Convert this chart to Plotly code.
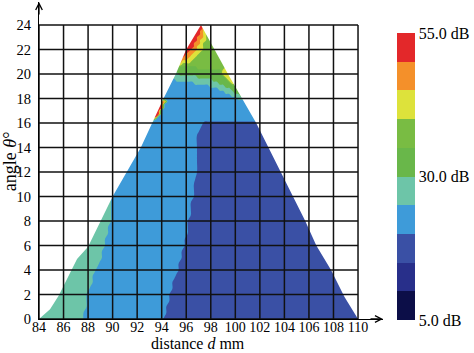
import numpy as np
import plotly.graph_objects as go

# ---- level classes (mid value of each 5 dB band) ----
DB, LB, TL, G1, G2, YL, OR, RD = 17.5, 22.5, 27.5, 32.5, 37.5, 42.5, 47.5, 52.5

# ---- zone map: for each angle row, (distance where zone starts, level) ----
zone_rows = [
    (0.0,  [(84, TL), (87.6, LB), (94.2, DB)]),
    (0.5,  [(84, TL), (87.7, LB), (94.3, DB)]),
    (1.0,  [(84, TL), (87.8, LB), (94.45, DB)]),
    (1.5,  [(84, TL), (87.9, LB), (94.55, DB)]),
    (2.0,  [(84, TL), (88.0, LB), (94.7, DB)]),
    (2.5,  [(84, TL), (88.15, LB), (94.85, DB)]),
    (3.0,  [(84, TL), (88.35, LB), (95.0, DB)]),
    (3.5,  [(84, TL), (88.5, LB), (95.15, DB)]),
    (4.0,  [(84, TL), (88.7, LB), (95.3, DB)]),
    (4.5,  [(84, TL), (88.85, LB), (95.45, DB)]),
    (5.0,  [(84, TL), (89.05, LB), (95.6, DB)]),
    (5.5,  [(84, TL), (89.2, LB), (95.75, DB)]),
    (6.0,  [(84, TL), (89.4, LB), (95.9, DB)]),
    (6.5,  [(84, TL), (89.5, LB), (96.0, DB)]),
    (7.0,  [(84, TL), (89.6, LB), (96.05, DB)]),
    (7.5,  [(84, TL), (89.7, LB), (96.1, DB)]),
    (8.0,  [(84, TL), (89.8, LB), (96.2, DB)]),
    (8.5,  [(84, TL), (89.85, LB), (96.3, DB)]),
    (9.0,  [(84, TL), (89.9, LB), (96.4, DB)]),
    (9.5,  [(84, TL), (89.95, LB), (96.5, DB)]),
    (10.0, [(84, TL), (90.0, LB), (96.6, DB)]),
    (11.0, [(84, LB), (96.7, DB)]),
    (12.0, [(84, LB), (96.8, DB)]),
    (13.0, [(84, LB), (96.8, DB)]),
    (14.0, [(84, LB), (96.8, DB)]),
    (15.0, [(84, LB), (96.9, DB)]),
    (15.5, [(84, LB), (97.05, DB)]),
    (16.0, [(84, LB), (97.4, DB)]),
    (16.25, [(84, G1), (93.5, LB)]),
    (16.5, [(84, RD), (93.6, LB)]),
    (16.75, [(84, RD), (93.8, LB)]),
    (17.0, [(84, RD), (93.9, LB)]),
    (17.25, [(84, RD), (94.1, LB)]),
    (17.5, [(84, RD), (94.2, LB)]),
    (17.75, [(84, OR), (94.3, LB)]),
    (18.0, [(84, LB), (100.2, TL)]),
    (18.25, [(84, LB), (99.65, TL), (100.5, G1)]),
    (18.5, [(84, LB), (99.1, TL), (100.0, G1)]),
    (18.75, [(84, LB), (98.55, TL), (99.55, G1)]),
    (19.0, [(84, LB), (97.9, TL), (99.05, G1)]),
    (19.25, [(84, LB), (96.6, TL), (98.6, G1), (99.6, YL)]),
    (19.5, [(84, LB), (95.25, TL), (98.1, G1), (99.3, YL)]),
    (19.75, [(84, TL), (96.8, G1), (99.1, YL)]),
    (20.0, [(84, TL), (95.5, G1), (98.95, YL)]),
    (20.25, [(84, G1), (98.9, YL)]),
    (20.5, [(84, G1), (97.0, G2), (99.05, YL)]),
    (20.75, [(84, YL), (95.6, G2)]),
    (21.0, [(84, OR), (95.75, YL), (96.3, G2)]),
    (21.25, [(84, RD), (95.7, OR), (96.1, YL), (96.65, G2)]),
    (21.5, [(84, RD), (96.0, OR), (96.4, YL), (96.95, G2)]),
    (21.75, [(84, RD), (96.25, OR), (96.65, YL), (97.2, G2)]),
    (22.0, [(84, RD), (96.45, OR), (96.8, YL), (97.3, G2)]),
    (22.25, [(84, RD), (96.6, OR), (96.95, YL), (97.4, G2)]),
    (22.5, [(84, RD), (96.75, OR), (97.05, YL), (97.45, G2)]),
    (22.75, [(84, RD), (96.9, OR), (97.2, YL), (97.55, G2)]),
    (23.0, [(84, RD), (97.0, OR), (97.3, YL), (97.6, G2)]),
    (23.25, [(84, RD), (97.1, OR), (97.35, YL), (97.6, G2)]),
    (23.5, [(84, RD), (97.2, OR), (97.4, YL), (97.7, G2)]),
    (23.75, [(84, RD), (97.3, OR), (97.45, YL), (97.8, G2)]),
    (24.0, [(84, RD), (97.5, OR), (97.7, YL), (98.0, G2)]),
]

# ---- measured outline of the measured (triangular) domain ----
left_edge_x = [84.0, 84.9, 85.6, 87.1, 88.0, 90.0, 92.3, 93.2, 94.15, 95.15, 96.0, 97.2]
left_edge_y = [0.0, 0.8, 1.9, 4.9, 5.9, 10.0, 14.0, 16.0, 18.0, 20.0, 22.0, 24.0]
right_edge_x = [97.2, 98.3, 99.4, 101.7, 103.7, 104.7, 105.7, 106.6, 107.8, 108.9, 110.0]
right_edge_y = [24.0, 22.0, 20.0, 16.0, 12.0, 10.0, 8.0, 6.0, 4.0, 1.8, 0.0]

x_ticks = list(range(84, 111, 2))
y_ticks = list(range(0, 25, 2))

level_colors = ['#0c0e48', '#282f8a', '#3a50a5', '#3e9bd9', '#6dc5a8',
                '#69b74a', '#79bc43', '#dde23b', '#f4902a', '#e3282a']
cbar_ticks = [5, 30, 55]
cbar_text = ['5.0 dB', '30.0 dB', '55.0 dB']

# ---- build the z grid from the zone map ----
xs = [round(v, 2) for v in np.arange(84.0, 110.001, 0.25)]
ys = [r[0] for r in zone_rows]


def expand(segs):
    row = []
    for x in xs:
        v = segs[0][1]
        for x0, val in segs:
            if x >= x0 - 1e-9:
                v = val
        row.append(v)
    return row


z = [expand(segs) for _, segs in zone_rows]

SERIF = 'Liberation Serif, Times New Roman, serif'

fig = go.Figure()
fig.add_trace(go.Contour(
    x=xs, y=ys, z=z,
    autocontour=False,
    contours=dict(start=10, end=50, size=5, coloring='fill', showlines=False),
    line=dict(width=0, smoothing=1.3),
    colorscale=[[i / 9, c] for i, c in enumerate(level_colors)],
    zauto=False, zmin=5, zmax=55,
    hoverinfo='skip',
    colorbar=dict(
        thickness=18, thicknessmode='pixels',
        len=287, lenmode='pixels',
        x=1.0407, xanchor='left', xpad=0,
        y=-0.0032, yanchor='bottom', ypad=0,
        outlinewidth=0, ticks='',
        tickvals=cbar_ticks, ticktext=cbar_text,
        tickfont=dict(family=SERIF, size=16, color='black'),
    ),
))

# white masks outside the measured domain
fig.add_trace(go.Scatter(
    x=left_edge_x + [97.2, 83.7, 83.7], y=left_edge_y + [24.4, 24.4, 0.0],
    fill='toself', fillcolor='white', mode='lines',
    line=dict(width=0, color='white'), hoverinfo='skip', showlegend=False))
fig.add_trace(go.Scatter(
    x=right_edge_x + [110.4, 110.4, 97.2], y=right_edge_y + [0.0, 24.4, 24.4],
    fill='toself', fillcolor='white', mode='lines',
    line=dict(width=0, color='white'), hoverinfo='skip', showlegend=False))

shapes = []
for xv in x_ticks:
    shapes.append(dict(type='line', xref='x', yref='y', x0=xv, x1=xv,
                       y0=y_ticks[0], y1=y_ticks[-1], layer='above',
                       line=dict(color='#111111', width=1.5)))
for yv in y_ticks:
    shapes.append(dict(type='line', xref='x', yref='y', y0=yv, y1=yv,
                       x0=x_ticks[0], x1=x_ticks[-1], layer='above',
                       line=dict(color='#111111', width=1.5)))

x_end = 84 + 344 / 12.27
y_end = 317 / 12.25

annotations = [
    dict(x=x_end, y=0, xref='x', yref='y', ax=-14, ay=0, showarrow=True,
         arrowhead=5, arrowsize=1, arrowwidth=1.3, arrowcolor='black', text='', standoff=0),
    dict(x=84, y=y_end, xref='x', yref='y', ax=0, ay=14, showarrow=True,
         arrowhead=5, arrowsize=1, arrowwidth=1.3, arrowcolor='black', text='', standoff=0),
    dict(text='distance <i>d</i> mm', x=0.462, y=-0.109, xref='paper', yref='paper',
         xanchor='center', yanchor='bottom', showarrow=False,
         font=dict(family=SERIF, size=16, color='black')),
    dict(text='angle <i>θ</i>°', x=-0.0843, y=0.498, xref='paper', yref='paper',
         xanchor='center', yanchor='middle', showarrow=False, textangle=-90,
         font=dict(family=SERIF, size=18, color='black')),
]

fig.update_layout(
    width=474, height=353,
    margin=dict(l=39, r=91, t=2, b=34),
    paper_bgcolor='white', plot_bgcolor='white',
    showlegend=False,
    shapes=shapes, annotations=annotations,
    xaxis=dict(range=[84, x_end], tickvals=x_ticks, showgrid=False, zeroline=False,
               showline=True, linecolor='black', linewidth=1.4, ticks='',
               tickangle=0, layer='above traces', ticklabelstandoff=-5,
               tickfont=dict(family=SERIF, size=14, color='black')),
    yaxis=dict(range=[0, y_end], tickvals=y_ticks, showgrid=False, zeroline=False,
               showline=True, linecolor='black', linewidth=1.4, ticks='',
               layer='above traces', ticklabelstandoff=4,
               tickfont=dict(family=SERIF, size=14.5, color='black')),
)

fig.write_html('out.html', config={'displayModeBar': False})
